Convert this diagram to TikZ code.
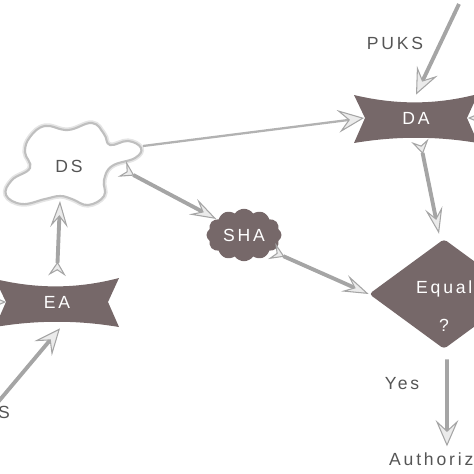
\documentclass[tikz,border=0pt]{standalone}
\usepackage{fontspec}
\setmainfont{Liberation Sans}[LetterSpace=16]
\usepackage{xcolor}
\usepackage{tikz}
\usetikzlibrary{arrows.meta,shapes.geometric,shapes.symbols}

\definecolor{boxfill}{RGB}{118,104,105}
\definecolor{arrowline}{RGB}{165,165,165}
\definecolor{arrowfill}{RGB}{235,235,235}
\definecolor{labelgray}{RGB}{85,85,85}

\newcommand{\bowtieshape}[1]{\fill[boxfill, shift={#1}]
    (-62,-23) .. controls (-20,-13) and (20,-13) .. (62,-24) -- (51,0) -- (62,25)
    .. controls (20,18) and (-20,18) .. (-62,25) -- (-51,0) -- cycle;}

\begin{document}
\begin{tikzpicture}[x=0.02cm, y=-0.02cm, font=\fontsize{10pt}{12pt}\selectfont,
    bowtie/.style={minimum width=2.5cm, minimum height=1.04cm, inner sep=0pt, text=white},
    label text/.style={text=labelgray},
    flow/.style={draw=arrowline, line width=2.2pt,
        -{Stealth[length=15pt, width=13pt, inset=6pt, fill=arrowfill, color=arrowline, line width=0.6pt]}},
    fletch/.style={flow, {Stealth[reversed, length=8pt, width=10pt, inset=3pt, fill=arrowfill, color=arrowline, line width=0.6pt]}-{Stealth[length=15pt, width=10pt, inset=6pt, fill=arrowfill, color=arrowline, line width=0.6pt]}}]
    \useasboundingbox (0,0) rectangle (474,474);

    \draw[draw=gray!50, line width=1.2pt, fill=white, preaction={draw=gray!20, line width=3pt}]
        plot[smooth cycle, tension=0.7] coordinates {(30,137) (45,126) (68,130) (92,123) (104,134) (110,145) (128,141) (141,148) (135,158) (112,166) (104,180) (104,196) (88,205) (72,199) (60,196) (45,199) (22,204) (6,195) (12,180) (30,168) (25,152)};
    \node[label text] (ds) at (69,166) {DS};

    \bowtieshape{(416,118)}
    \node[bowtie] (da) at (416,118) {DA};
    \bowtieshape{(57,302)}
    \node[bowtie] (ea) at (57,302) {EA};
    \node[cloud, cloud puffs=12, cloud puff arc=110, aspect=1.5, fill=boxfill, text=white, inner sep=0pt, minimum width=1.5cm, minimum height=1.05cm] (sha) at (244,235) {SHA};
    \node[diamond, fill=boxfill, inner sep=0pt, rounded corners=2pt, minimum width=3cm, minimum height=2.2cm] (eq) at (444,294) {};
    \node[text=white, anchor=west] (eqtxt) at (410,289) {Equal};
    \node[text=white] (eqq) at (444,325) {?};

    \node[label text] (puks) at (395,43) {PUKS};
    \node[label text] (yes) at (402,384) {Yes};
    \node[label text, anchor=west] (auth) at (383,459) {Authoriz};
    \node[label text, anchor=east] (s) at (16,412) {S};

    \coordinate (puksin) at (459,4);
    \coordinate (sin) at (-12,414);
    \coordinate (eain) at (-40,302);
    \coordinate (dain) at (510,118);

    \draw[flow, draw=gray!60, line width=1.3pt] ([shift={(74,-20)}]ds.center) -- ([xshift=0.22cm]da.west);
    \draw[flow] (puksin) -- ([yshift=-0.06cm]da.north);
    \draw[flow] (dain) -- ([xshift=-0.22cm]da.east);
    \draw[fletch, shorten >=0.1cm] ([xshift=0.08cm, yshift=0.08cm]da.south) -- ([xshift=-0.08cm]eq.north);
    \draw[fletch] ([shift={(53,3)}]ds.center) -- (sha.150);
    \draw[fletch] (sha.-30) -- (eq.west);
    \draw[fletch] (ea.north) -- ([shift={(-9,35)}]ds.center);
    \draw[flow] (sin) -- ([xshift=0.06cm]ea.south);
    \draw[flow] (eain) -- ([xshift=0.24cm]ea.west);
    \draw[flow] ([xshift=0.06cm, yshift=-0.2cm]eq.south) -- ([xshift=1.28cm]auth.north west);
\end{tikzpicture}
\end{document}
